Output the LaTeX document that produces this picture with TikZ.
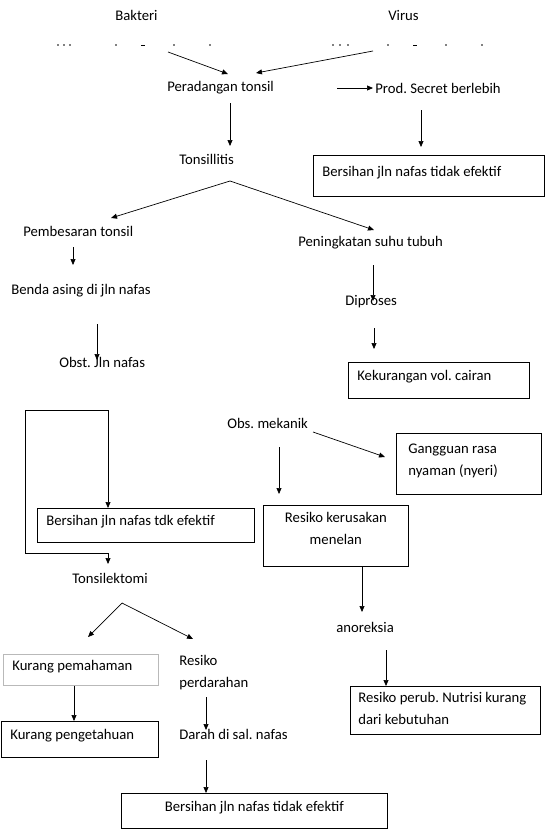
\documentclass[tikz,border=0pt]{standalone}
\usepackage{fontspec}
\setmainfont{Carlito}
\usetikzlibrary{arrows.meta}
\frenchspacing

\begin{document}
\begin{tikzpicture}[x=1pt, y=-1pt, line width=0.7pt,
  font=\fontsize{14.7}{22}\selectfont,
  lbl/.style={anchor=west, inner sep=2pt},
  tbox/.style={draw, anchor=north west, align=flush left, inner xsep=9pt, inner ysep=2pt, text depth=9pt},
  arr/.style={-{Triangle[length=6pt,width=5pt]}},]
  \useasboundingbox (0,0) rectangle (554,830);
  % causes
  \node[lbl] (bakteri) at (113,15) {Bakteri};
  \node[lbl] (virus) at (386,15) {Virus};
  \foreach \x in {58,64,70,116,174,210,333,340,348,388,446,482}
    \fill (\x,45) circle (0.8pt);
  \draw (141,45) -- (145,45);
  \draw (413,45) -- (417,45);
  \node[lbl] (peradangan) at (165,88) {Peradangan tonsil};
  \node[lbl] (prod) at (373,88) {Prod. Secret berlebih};
  \node[lbl] (tonsillitis) at (177,159) {Tonsillitis};
  \node[tbox, text width=213pt, minimum height=41pt] (bersih1) at (313,155) {Bersihan jln nafas tidak efektif};
  \draw[arr] ([shift={(55,37)}]bakteri.west) -- ([shift={(63,-14)}]peradangan.west);
  \draw[arr] ([shift={(-13,36)}]virus.west) -- ([shift={(91,-15)}]peradangan.west);
  \draw[arr] ([shift={(172,0)}]peradangan.west) -- (prod.west);
  \draw[arr] ([shift={(65,15)}]peradangan.west) -- ([shift={(53,-13)}]tonsillitis.west);
  \draw[arr] ([shift={(48,22)}]prod.west) -- ([shift={(108,-8)}]bersih1.north west);
  % tonsillitis branches
  \node[lbl] (pembesaran) at (21,231) {Pembesaran tonsil};
  \node[lbl] (peningkatan) at (296,243) {Peningkatan suhu tubuh};
  \node[lbl] (benda) at (9,291) {Benda asing di jln nafas};
  \node[lbl] (diproses) at (343,302) {Diproses};
  \node[lbl] (obst) at (57,362) {Obst. Jln nafas};
  \node[tbox, text width=163pt, minimum height=36pt] (kekurangan) at (348,362) {Kekurangan vol. cairan};
  \coordinate (fork1) at ([shift={(53,22)}]tonsillitis.west);
  \draw[arr] (fork1) -- ([shift={(90,-13)}]pembesaran.west);
  \draw[arr] (fork1) -- ([shift={(78,-13)}]peningkatan.west);
  \draw[arr] ([shift={(52,16)}]pembesaran.west) -- ([shift={(64,-26)}]benda.west);
  \draw[arr] ([shift={(77,22)}]peningkatan.west) -- ([shift={(30,-1)}]diproses.west);
  \draw[arr] ([shift={(88,33)}]benda.west) -- ([shift={(40,-2)}]obst.west);
  \draw[arr] ([shift={(31,26)}]diproses.west) -- ([shift={(26,-13)}]kekurangan.north west);
  % obstruction
  \node[tbox, text width=199pt, minimum height=34pt] (bersihtdk) at (37,508) {Bersihan jln nafas tdk efektif};
  \node[lbl] (obsmek) at (225,423) {Obs. mekanik};
  \node[tbox, text width=127pt, minimum height=61pt, text depth=31pt] (gangguan) at (396,433) {\hspace{3pt}Gangguan rasa\\\hspace{3pt}nyaman (nyeri)};
  \node[tbox, text width=127pt, minimum height=61pt, align=flush center, text depth=36pt] (kerusakan) at (263,505) {Resiko kerusakan\\menelan};
  \node[lbl] (tonsilektomi) at (70,578) {Tonsilektomi};
  \coordinate (loop) at (25,410);
  \draw[arr] (loop) -| ([xshift=71pt]bersihtdk.north west);
  \draw[arr] (loop) |- ([shift={(38,-25)}]tonsilektomi.west) -- ([shift={(38,-14)}]tonsilektomi.west);
  \draw[arr] ([shift={(88,9)}]obsmek.west) -- ([shift={(-11,24)}]gangguan.north west);
  \draw[arr] ([shift={(54,24)}]obsmek.west) -- ([shift={(16,-11)}]kerusakan.north west);
  % tonsilektomi
  \node[lbl] (anoreksia) at (334,627) {anoreksia};
  \node[tbox, text width=137pt, minimum height=31pt, draw=gray!55] (pemahaman) at (3,654) {Kurang pemahaman};
  \node[lbl, align=left] (perdarahan) at (177,673) {Resiko\\perdarahan};
  \node[tbox, text width=178pt, inner xsep=6pt, minimum height=48pt, text depth=26pt] (nutrisi) at (350,686) {\hspace{2pt}Resiko perub. Nutrisi kurang\\\hspace{2pt}dari kebutuhan};
  \node[tbox, text width=139pt, minimum height=36pt] (pengetahuan) at (1,721) {Kurang pengetahuan};
  \node[lbl] (darah) at (177,734) {Darah di sal. nafas};
  \node[tbox, text width=248pt, minimum height=35pt, align=flush center] (bersihend) at (121,793) {Bersihan jln nafas tidak efektif};
  \draw[arr] ([shift={(99,0)}]kerusakan.south west) -- ([shift={(28,-15)}]anoreksia.west);
  \coordinate (fork2) at ([shift={(52,25)}]tonsilektomi.west);
  \draw[arr] (fork2) -- ([shift={(85,-17)}]pemahaman.north west);
  \draw[arr] (fork2) -- ([shift={(16,-34)}]perdarahan.west);
  \draw[arr] ([shift={(52,23)}]anoreksia.west) -- ([shift={(36,0)}]nutrisi.north west);
  \draw[arr] ([shift={(71,0)}]pemahaman.south west) -- ([shift={(73,0)}]pengetahuan.north west);
  \draw[arr] ([shift={(29,24)}]perdarahan.west) -- ([shift={(29,-4)}]darah.west);
  \draw[arr] ([shift={(29,26)}]darah.west) -- ([shift={(85,0)}]bersihend.north west);
\end{tikzpicture}
\end{document}
